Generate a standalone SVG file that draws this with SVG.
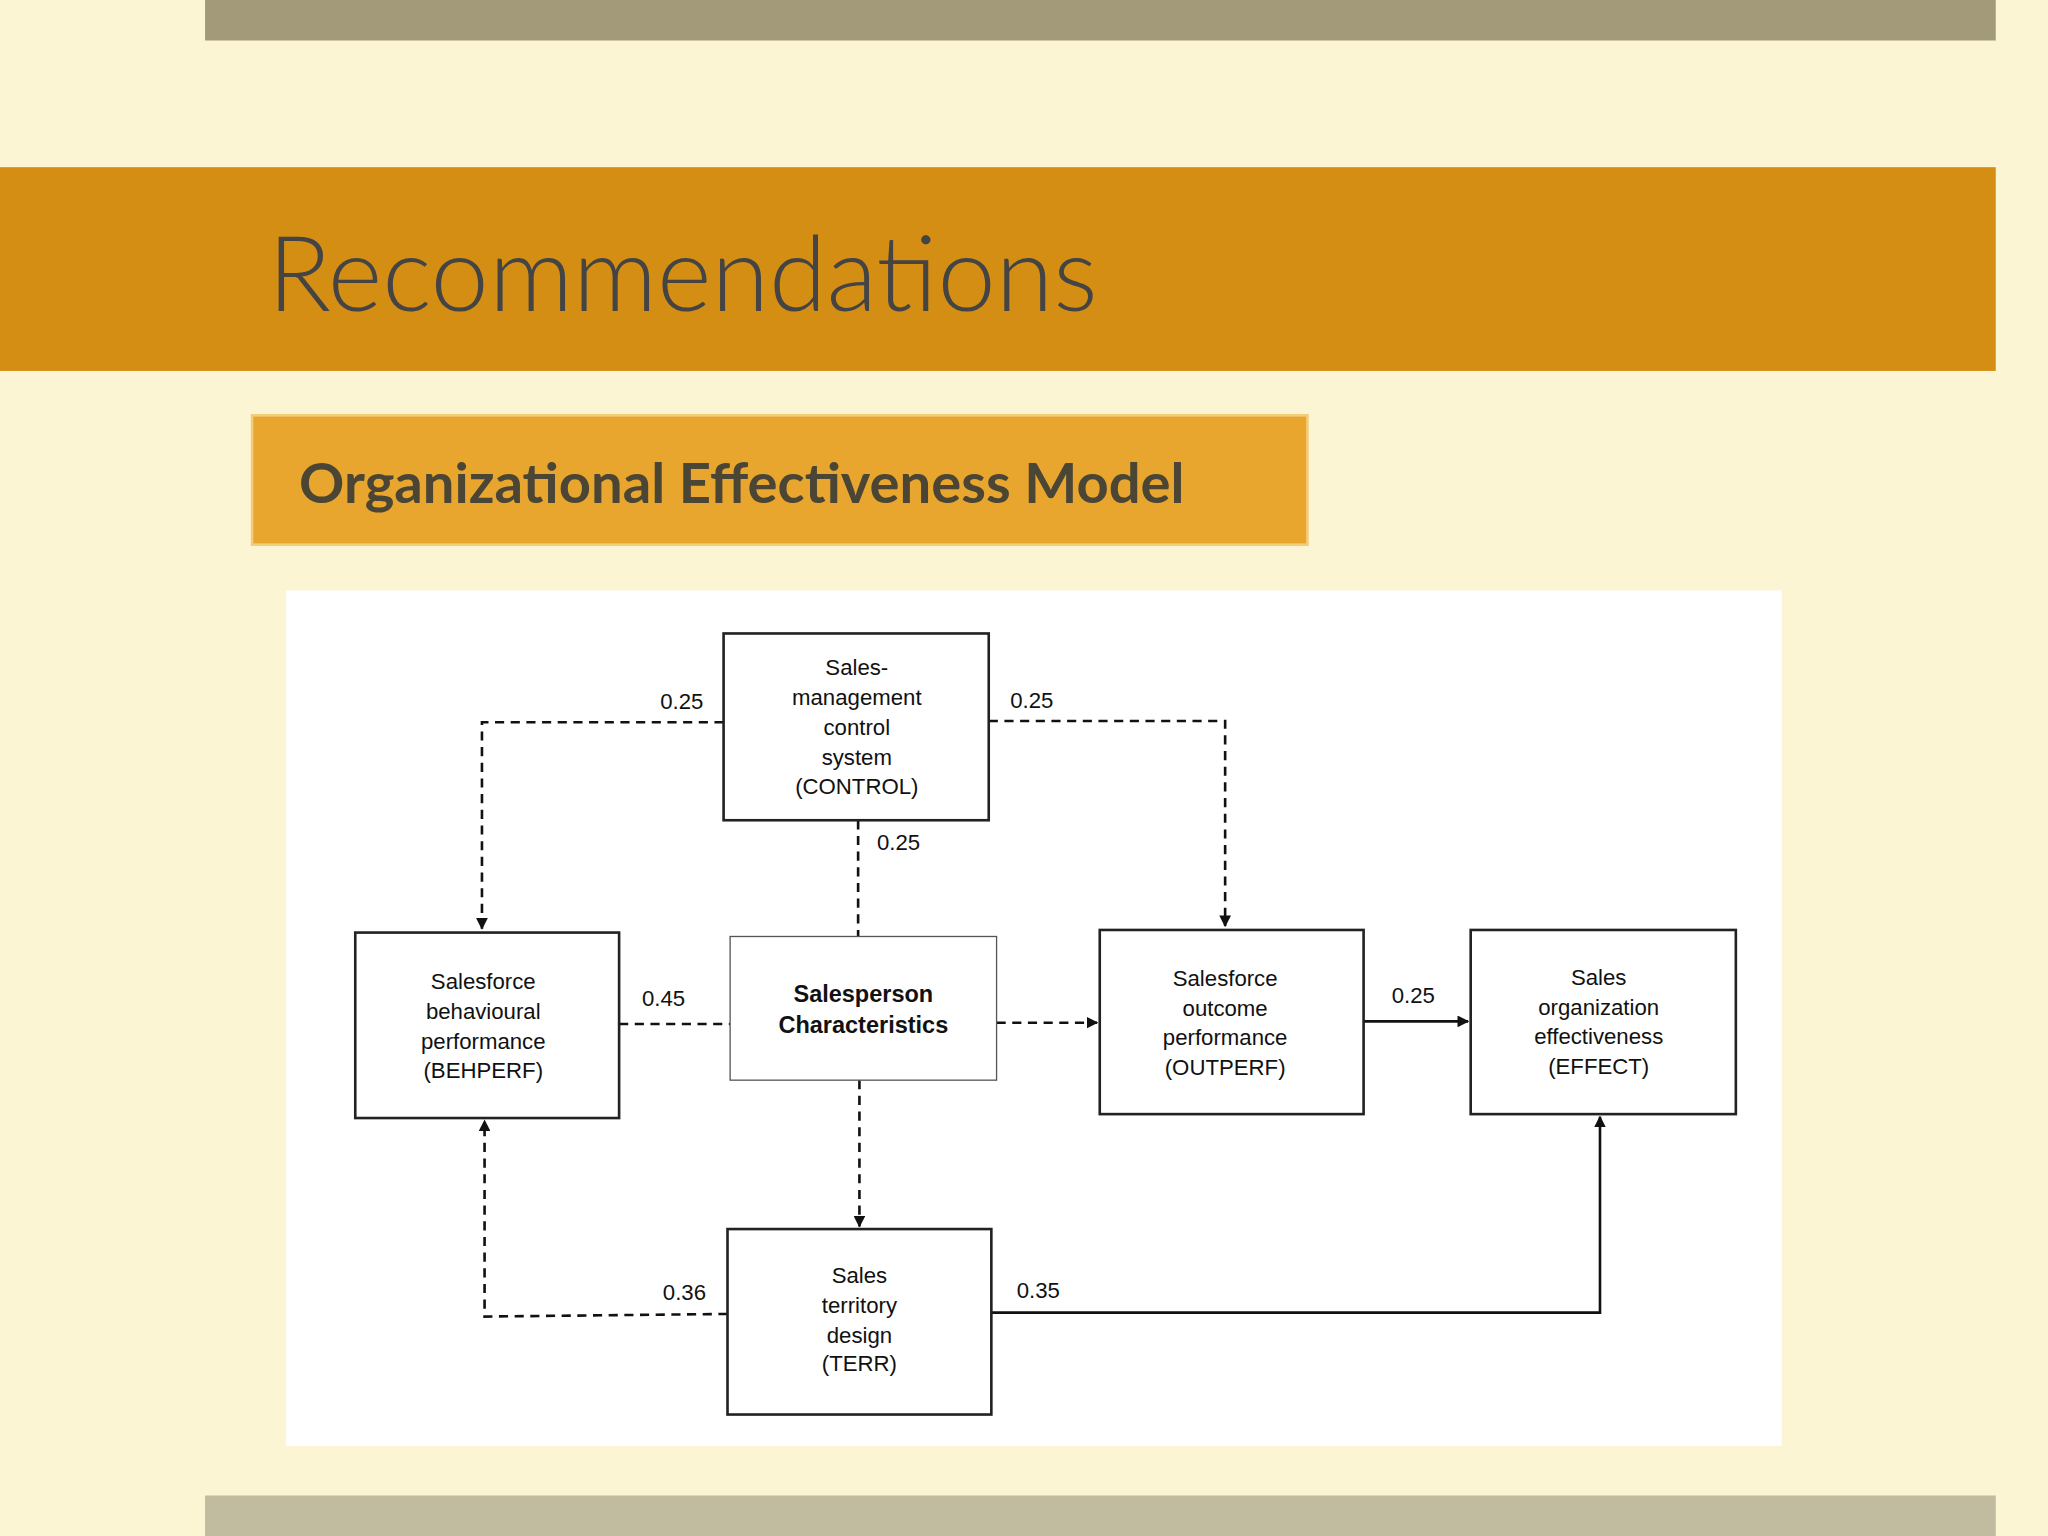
<svg xmlns="http://www.w3.org/2000/svg" width="2048" height="1536" viewBox="0 0 2048 1536">
<defs>
<marker id="ah" viewBox="0 0 10 10" refX="9" refY="5" markerWidth="9" markerHeight="9" markerUnits="userSpaceOnUse" orient="auto"><path d="M0,0 L10,5 L0,10 z" fill="#111"/></marker>
<style>
.box{fill:#fff;stroke:#222;stroke-width:2}
.t{font-family:"Liberation Sans",Arial,sans-serif;font-size:17px;fill:#111;text-anchor:middle}
.b{font-weight:bold;font-size:18px}
.l{font-family:"Liberation Sans",Arial,sans-serif;font-size:17px;fill:#111;text-anchor:middle}
.d{fill:none;stroke:#111;stroke-width:2;stroke-dasharray:7,5}
.s{fill:none;stroke:#111;stroke-width:2}
</style>
</defs>
<g transform="scale(1.30612)">
<rect width="1568" height="1176" fill="#FBF5D3"/>
<rect x="157" y="0" width="1371" height="31" fill="#A39A7A"/>
<rect x="0" y="128" width="1528" height="156" fill="#D48E14"/>
<text x="205" y="238" font-family="Lato, 'Open Sans', sans-serif" font-weight="300" font-size="80" fill="#444">Recommendations</text>
<rect x="193" y="318" width="808" height="99" fill="#E8A62E" stroke="#F2CD7A" stroke-width="2"/>
<text x="229" y="385" font-family="Lato, 'Open Sans', sans-serif" font-weight="bold" font-size="43" fill="#4A4535">Organizational Effectiveness Model</text>
<rect x="219" y="452" width="1145" height="655" fill="#fff"/>
<rect x="157" y="1145" width="1371" height="31" fill="#C1BBA0"/>

<g id="connectors">
<path class="d" d="M554,553 H369 V711" marker-end="url(#ah)"/>
<path class="d" d="M757,552 H938 V709" marker-end="url(#ah)"/>
<path class="d" d="M657,628 V717"/>
<path class="d" d="M474,784 H559"/>
<path class="d" d="M763,783 H840" marker-end="url(#ah)"/>
<path class="s" d="M1044,782 H1124" marker-end="url(#ah)"/>
<path class="d" d="M658,827 V939" marker-end="url(#ah)"/>
<path class="d" d="M557,1006 L371,1008 V858" marker-end="url(#ah)"/>
<path class="s" d="M759,1005 H1225 V855" marker-end="url(#ah)"/>
<text class="l" x="522" y="543">0.25</text>
<text class="l" x="790" y="542">0.25</text>
<text class="l" x="688" y="651">0.25</text>
<text class="l" x="508" y="770">0.45</text>
<text class="l" x="1082" y="768">0.25</text>
<text class="l" x="524" y="995">0.36</text>
<text class="l" x="795" y="994">0.35</text>
</g>

<g id="control"><rect class="box" x="554" y="485" width="203" height="143"/>
<text class="t" x="656" y="517">Sales-</text><text class="t" x="656" y="540">management</text><text class="t" x="656" y="563">control</text><text class="t" x="656" y="586">system</text><text class="t" x="656" y="608">(CONTROL)</text></g>
<g id="behperf"><rect class="box" x="272" y="714" width="202" height="142"/>
<text class="t" x="370" y="757">Salesforce</text><text class="t" x="370" y="780">behavioural</text><text class="t" x="370" y="803">performance</text><text class="t" x="370" y="825">(BEHPERF)</text></g>
<g id="characteristics"><rect x="559" y="717" width="204" height="110" fill="#fff" stroke="#555" stroke-width="1"/>
<text class="t b" x="661" y="767">Salesperson</text><text class="t b" x="661" y="791">Characteristics</text></g>
<g id="outperf"><rect class="box" x="842" y="712" width="202" height="141"/>
<text class="t" x="938" y="755">Salesforce</text><text class="t" x="938" y="778">outcome</text><text class="t" x="938" y="800">performance</text><text class="t" x="938" y="823">(OUTPERF)</text></g>
<g id="effect"><rect class="box" x="1126" y="712" width="203" height="141"/>
<text class="t" x="1224" y="754">Sales</text><text class="t" x="1224" y="777">organization</text><text class="t" x="1224" y="799">effectiveness</text><text class="t" x="1224" y="822">(EFFECT)</text></g>
<g id="terr"><rect class="box" x="557" y="941" width="202" height="142"/>
<text class="t" x="658" y="982">Sales</text><text class="t" x="658" y="1005">territory</text><text class="t" x="658" y="1028">design</text><text class="t" x="658" y="1050">(TERR)</text></g>
</g>
</svg>
